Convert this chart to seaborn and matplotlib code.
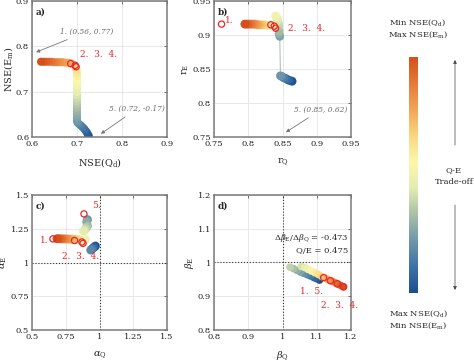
import numpy as np
import pandas as pd
import matplotlib
matplotlib.use("Agg")
import matplotlib.pyplot as plt
from matplotlib.colors import LinearSegmentedColormap
import seaborn as sns

sns.set_style("white")
plt.rcParams['font.family'] = ['DejaVu Serif']
plt.rcParams['mathtext.fontset'] = 'dejavuserif'

# ---------------- data ----------------
# panel a: NSE(Qd) vs NSE(Em), ordered from min NSE(Qd) (orange) to max NSE(Qd) (blue)
a_x = [0.620, 0.626, 0.632, 0.638, 0.644, 0.650, 0.656, 0.662, 0.668, 0.674,
       0.680, 0.685, 0.690, 0.694, 0.697, 0.699, 0.700, 0.700, 0.700, 0.700,
       0.700, 0.700, 0.700, 0.700, 0.700, 0.700, 0.700, 0.700, 0.700, 0.700,
       0.700, 0.700, 0.701, 0.704, 0.708, 0.712, 0.716, 0.719, 0.722, 0.724, 0.726]
a_y = [0.766, 0.766, 0.766, 0.766, 0.766, 0.765, 0.765, 0.765, 0.765, 0.764,
       0.764, 0.763, 0.761, 0.758, 0.754, 0.748, 0.741, 0.734, 0.727, 0.720,
       0.713, 0.706, 0.699, 0.692, 0.685, 0.678, 0.671, 0.664, 0.657, 0.650,
       0.643, 0.636, 0.632, 0.629, 0.626, 0.622, 0.618, 0.614, 0.610, 0.606, 0.603]
a_red_x = [0.686, 0.696, 0.698]
a_red_y = [0.762, 0.758, 0.755]

# panel b: rQ vs rE
b_x = [0.795, 0.798, 0.801, 0.804, 0.807, 0.810, 0.813, 0.816, 0.819, 0.822,
       0.825, 0.828, 0.831, 0.834, 0.840, 0.842, 0.843, 0.844, 0.844, 0.845,
       0.845, 0.846, 0.847, 0.849, 0.852, 0.855, 0.858, 0.861, 0.864]
b_y = [0.916, 0.916, 0.916, 0.916, 0.916, 0.916, 0.915, 0.915, 0.915, 0.915,
       0.915, 0.914, 0.914, 0.914, 0.928, 0.925, 0.921, 0.917, 0.913, 0.906,
       0.902, 0.898, 0.840, 0.839, 0.837, 0.836, 0.834, 0.833, 0.832]
b_red_x = [0.761, 0.833, 0.838, 0.840]
b_red_y = [0.916, 0.915, 0.913, 0.910]

# panel c: alphaQ vs alphaE
c_x = [0.685, 0.699, 0.713, 0.727, 0.741, 0.755, 0.769, 0.783, 0.797, 0.811,
       0.825, 0.839, 0.853, 0.867, 0.881, 0.895, 0.882, 0.890, 0.898, 0.906,
       0.912, 0.905, 0.908, 0.911, 0.935, 0.942, 0.949, 0.956, 0.963, 0.970]
c_y = [1.176, 1.176, 1.175, 1.175, 1.175, 1.174, 1.174, 1.173, 1.173, 1.172,
       1.172, 1.171, 1.171, 1.170, 1.170, 1.169, 1.232, 1.242, 1.252, 1.262,
       1.272, 1.300, 1.310, 1.318, 1.092, 1.098, 1.104, 1.110, 1.116, 1.122]
c_red_x = [0.655, 0.815, 0.870, 0.878, 0.885]
c_red_y = [1.175, 1.163, 1.152, 1.142, 1.360]

# panel d: betaQ vs betaE
d_x = [1.178, 1.170, 1.162, 1.154, 1.146, 1.138, 1.130, 1.122, 1.114, 1.104,
       1.094, 1.084, 1.074, 1.065, 1.055, 1.022, 1.032, 1.042, 1.052, 1.062,
       1.072, 1.082, 1.092, 1.100, 1.108]
d_y = [0.928, 0.932, 0.936, 0.940, 0.944, 0.947, 0.951, 0.955, 0.959, 0.965,
       0.970, 0.975, 0.980, 0.985, 0.988, 0.986, 0.982, 0.977, 0.972, 0.968,
       0.964, 0.960, 0.955, 0.952, 0.948]
d_red_x = [1.120, 1.140, 1.160, 1.178]
d_red_y = [0.955, 0.946, 0.937, 0.928]

# ---------------- style ----------------
cmap = LinearSegmentedColormap.from_list(
    "qe", ['#1c4f90', '#3e73a6', '#7198aa', '#a9c0a6', '#e4ecb2', '#fcf8aa',
           '#fbd680', '#f3a556', '#e77a3a', '#d4511b'])
RED = '#e8262c'
GREY_TXT = '#6a6a6a'
SPINE = '#7a7a7a'

fig = plt.figure(figsize=(4.74, 3.63), dpi=100)
W, H = 474, 363


def add_ax(l, r, t, b):
    return fig.add_axes([l / W, 1 - b / H, (r - l) / W, (b - t) / H])


axa = add_ax(32, 167, 1, 137)
axb = add_ax(214, 351, 1, 137)
axc = add_ax(32, 167, 195, 330)
axd = add_ax(214, 351, 195, 330)


def draw(ax, xs, ys, rx, ry, s=30, line=False):
    df = pd.DataFrame({"x": xs, "y": ys,
                       "t": np.linspace(1, 0, len(xs))})
    if line:
        ax.plot(df.x, df.y, color='#a8b8bc', lw=0.7, zorder=1)
    df = df.iloc[::-1]
    sns.scatterplot(data=df, x="x", y="y", hue="t", palette=cmap,
                    hue_norm=(0, 1), s=s, linewidth=0, legend=False,
                    ax=ax, zorder=2)
    ax.scatter(rx, ry, s=20, facecolors='none', edgecolors=RED,
               linewidths=0.9, zorder=3)


def style(ax, xlim, ylim, xt, yt, xtl, ytl, xl, yl, tag):
    ax.set_xlim(*xlim)
    ax.set_ylim(*ylim)
    ax.set_xticks(xt)
    ax.set_yticks(yt)
    ax.set_xticklabels(xtl)
    ax.set_yticklabels(ytl)
    ax.grid(True, color='#e4e4e4', lw=0.6)
    ax.set_axisbelow(True)
    for sp in ax.spines.values():
        sp.set_color(SPINE)
        sp.set_linewidth(1.1)
    ax.tick_params(direction='in', length=2.5, width=0.6, color='#555',
                   labelsize=6, top=True, right=True, pad=2,
                   labelcolor='#222')
    ax.set_xlabel(xl, fontsize=7, labelpad=6)
    ax.set_ylabel(yl, fontsize=7, labelpad=1)
    ax.text(0.03, 0.95, tag, transform=ax.transAxes, fontsize=6.5,
            fontweight='bold', va='top', ha='left')


draw(axa, a_x, a_y, a_red_x, a_red_y, s=34)
style(axa, (0.6, 0.9), (0.6, 0.9), [0.6, 0.7, 0.8, 0.9], [0.6, 0.7, 0.8, 0.9],
      ['0.6', '0.7', '0.8', '0.9'], ['0.6', '0.7', '0.8', '0.9'],
      r'NSE(Q$_\mathrm{d}$)', r'NSE(E$_\mathrm{m}$)', 'a)')
arrow = dict(arrowstyle='-|>', color='#777', lw=0.6, mutation_scale=5,
             shrinkA=1, shrinkB=0)
axa.annotate('1. (0.56, 0.77)', xy=(0.609, 0.787), xytext=(0.662, 0.832),
             fontsize=5.4, style='italic', color=GREY_TXT, va='center',
             ha='left', arrowprops=arrow)
axa.annotate('5. (0.72, -0.17)', xy=(0.753, 0.607), xytext=(0.771, 0.662),
             fontsize=5.4, style='italic', color=GREY_TXT, va='center',
             ha='left', arrowprops=arrow)
axa.text(0.707, 0.781, '2.  3.  4.', color=RED, fontsize=6.5, va='center')

draw(axb, b_x, b_y, b_red_x, b_red_y, s=40, line=True)
style(axb, (0.75, 0.95), (0.75, 0.95), [0.75, 0.8, 0.85, 0.9, 0.95],
      [0.75, 0.8, 0.85, 0.9, 0.95],
      ['0.75', '0.8', '0.85', '0.9', '0.95'],
      ['0.75', '0.8', '0.85', '0.9', '0.95'],
      r'r$_\mathrm{Q}$', r'r$_\mathrm{E}$', 'b)')
axb.text(0.766, 0.921, '1.', color=RED, fontsize=6.5, va='center')
axb.text(0.858, 0.910, '2.  3.  4.', color=RED, fontsize=6.5, va='center')
axb.annotate('5. (0.85, 0.62)', xy=(0.855, 0.757), xytext=(0.867, 0.790),
             fontsize=5.4, style='italic', color=GREY_TXT, va='center',
             ha='left', arrowprops=arrow)

draw(axc, c_x, c_y, c_red_x, c_red_y, s=40)
style(axc, (0.5, 1.5), (0.5, 1.5), [0.5, 0.75, 1, 1.25, 1.5],
      [0.5, 0.75, 1, 1.25, 1.5],
      ['0.5', '0.75', '1', '1.25', '1.5'], ['0.5', '0.75', '1', '1.25', '1.5'],
      r'$\alpha_\mathrm{Q}$', r'$\alpha_\mathrm{E}$', 'c)')
axc.axvline(1, color='#333', ls=':', lw=0.8, zorder=1)
axc.axhline(1, color='#333', ls=':', lw=0.8, zorder=1)
axc.text(0.56, 1.16, '1.', color=RED, fontsize=6.5, va='center')
axc.text(0.725, 1.045, '2.  3.  4.', color=RED, fontsize=6.5, va='center')
axc.text(0.945, 1.42, '5.', color=RED, fontsize=6.5, va='center')

draw(axd, d_x, d_y, d_red_x, d_red_y, s=30)
style(axd, (0.8, 1.2), (0.8, 1.2), [0.8, 0.9, 1, 1.1, 1.2],
      [0.8, 0.9, 1, 1.1, 1.2],
      ['0.8', '0.9', '1', '1.1', '1.2'], ['0.8', '0.9', '1', '1.1', '1.2'],
      r'$\beta_\mathrm{Q}$', r'$\beta_\mathrm{E}$', 'd)')
axd.axvline(1, color='#333', ls=':', lw=0.8, zorder=1)
axd.axhline(1, color='#333', ls=':', lw=0.8, zorder=1)
axd.text(1.193, 1.072, r'$\Delta\beta_\mathrm{E}/\Delta\beta_\mathrm{Q}$ = -0.473',
         fontsize=6, ha='right', va='center')
axd.text(1.193, 1.034, 'Q/E = 0.475', fontsize=6, ha='right', va='center')
axd.text(1.05, 0.915, '1.  5.', color=RED, fontsize=6.5, va='center')
axd.text(1.112, 0.873, '2.  3.  4.', color=RED, fontsize=6.5, va='center')

# ---------------- colour bar ----------------
cax = add_ax(409, 418, 57, 293)
grad = np.linspace(0, 1, 256)[:, None]
cax.imshow(grad, aspect='auto', cmap=cmap, origin='lower')
cax.set_axis_off()

fs = 6
fig.text(418 / W, 1 - 23 / H, r'Min NSE(Q$_\mathrm{d}$)', ha='center',
         va='center', fontsize=fs)
fig.text(418 / W, 1 - 35 / H, r'Max NSE(E$_\mathrm{m}$)', ha='center',
         va='center', fontsize=fs)
fig.text(418 / W, 1 - 314 / H, r'Max NSE(Q$_\mathrm{d}$)', ha='center',
         va='center', fontsize=fs)
fig.text(418 / W, 1 - 326 / H, r'Min NSE(E$_\mathrm{m}$)', ha='center',
         va='center', fontsize=fs)
fig.text(454 / W, 1 - 170 / H, 'Q-E', ha='center', va='center', fontsize=fs)
fig.text(454 / W, 1 - 182 / H, 'Trade-off', ha='center', va='center',
         fontsize=fs)
arr2 = dict(arrowstyle='-|>', color='#444', lw=0.5, mutation_scale=5,
            shrinkA=0, shrinkB=0)
fig.add_artist(matplotlib.patches.FancyArrowPatch(
    (455 / W, 1 - 145 / H), (455 / W, 1 - 60 / H),
    transform=fig.transFigure, **arr2))
fig.add_artist(matplotlib.patches.FancyArrowPatch(
    (455 / W, 1 - 205 / H), (455 / W, 1 - 290 / H),
    transform=fig.transFigure, **arr2))

fig.savefig("out.png", dpi=100)
